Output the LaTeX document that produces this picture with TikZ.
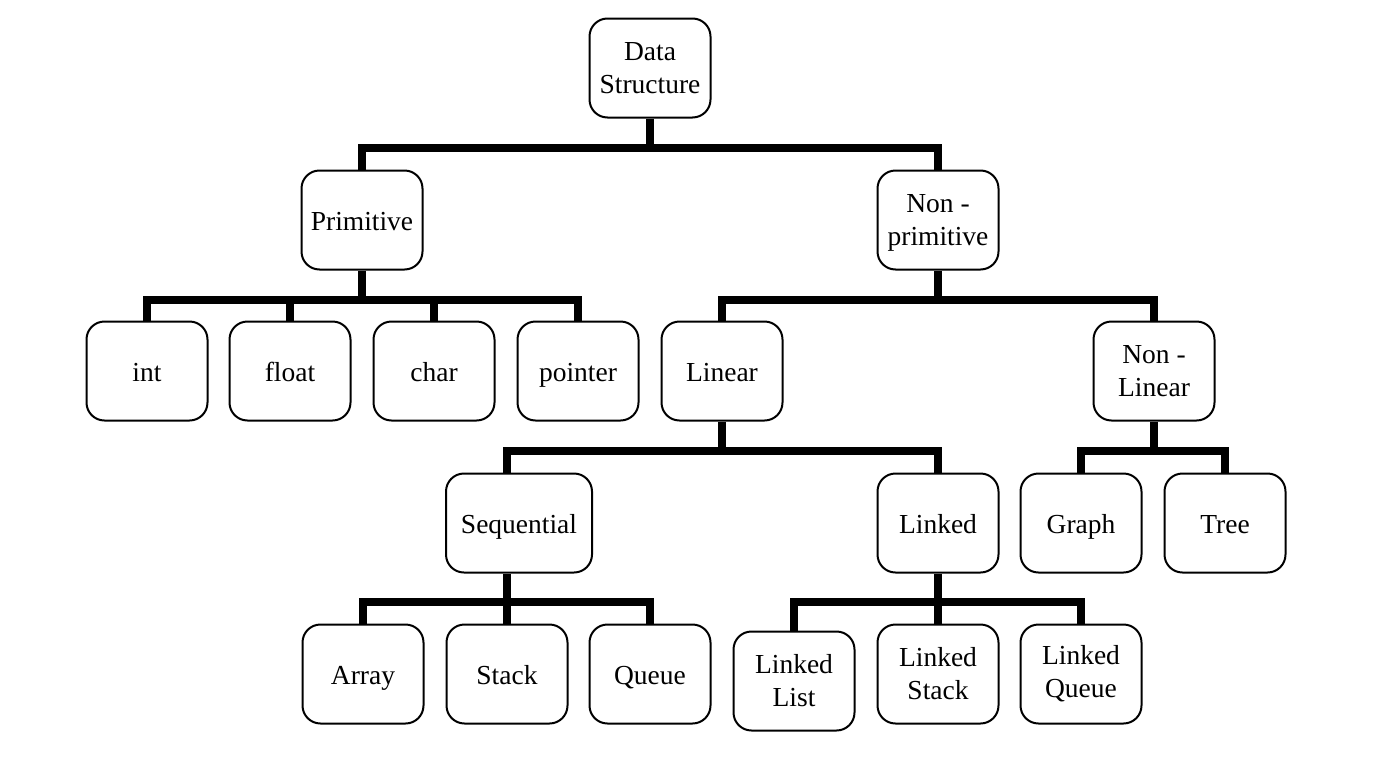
\documentclass[tikz,border=0pt]{standalone}
\usepackage{fontspec}
\setmainfont{Liberation Serif}
\begin{document}
\begin{tikzpicture}[x=1pt,y=-1pt,
  box/.style={draw=black, line width=2pt, rounded corners=18pt, minimum width=121pt, minimum height=99pt,
    align=center, font=\fontsize{27.5}{33}\selectfont, inner sep=0pt, fill=white},
  one/.style={box, text height=20pt, text depth=0pt},
  conn/.style={line width=7.5pt, line join=miter, draw=black}]
\useasboundingbox (0,0) rectangle (1400,758);
% nodes
\node[box] (ds) at (650,68) {Data\\Structure};
\node[one] (prim) at (362,220) {Primitive};
\node[box, text depth=0pt] (nonp) at (938,220) {Non -\\primitive};
\node[one] (int) at (147,371) {int};
\node[one] (float) at (290,371) {float};
\node[one] (char) at (434,371) {char};
\node[one] (ptr) at (578,371) {pointer};
\node[one] (lin) at (722,371) {Linear};
\node[box] (nonlin) at (1154,371) {Non -\\Linear};
\node[one, minimum width=146pt] (seq) at (519,523) {Sequential};
\node[one] (linked) at (938,523) {Linked};
\node[one] (graph) at (1081,523) {Graph};
\node[one] (tree) at (1225,523) {Tree};
\node[one] (array) at (363,674) {Array};
\node[one] (stack) at (507,674) {Stack};
\node[one] (queue) at (650,674) {Queue};
\node[box] (llist) at (794,681) {Linked\\List};
\node[box] (lstack) at (938,674) {Linked\\Stack};
\node[box] (lqueue) at (1081,674) {Linked\\Queue};
% bar coordinates
\coordinate (b1) at (650,148);
\coordinate (b2) at (362,300);
\coordinate (b3) at (938,300);
\coordinate (b4) at (722,451);
\coordinate (b5) at (1154,451);
\coordinate (b6) at (507,602);
\coordinate (b7) at (938,602);
\coordinate (seqtop) at ([xshift=-12pt]seq.north);
\coordinate (seqbot) at ([xshift=-12pt]seq.south);
% connectors
\draw[conn] (ds.south) -- (b1);
\draw[conn] (prim.north) |- (b1) -| (nonp.north);
\draw[conn] (prim.south) -- (b2);
\draw[conn] (int.north) |- (b2) -| (ptr.north);
\draw[conn] (float.north) -- (float.north |- b2);
\draw[conn] (char.north) -- (char.north |- b2);
\draw[conn] (nonp.south) -- (b3);
\draw[conn] (lin.north) |- (b3) -| (nonlin.north);
\draw[conn] (lin.south) -- (b4);
\draw[conn] (seqtop) |- (b4) -| (linked.north);
\draw[conn] (nonlin.south) -- (b5);
\draw[conn] (graph.north) |- (b5) -| (tree.north);
\draw[conn] (seqbot) -- (b6);
\draw[conn] (array.north) |- (b6) -| (queue.north);
\draw[conn] (stack.north) -- (b6);
\draw[conn] (linked.south) -- (b7);
\draw[conn] (llist.north) |- (b7) -| (lqueue.north);
\draw[conn] (lstack.north) -- (b7);
\end{tikzpicture}
\end{document}
